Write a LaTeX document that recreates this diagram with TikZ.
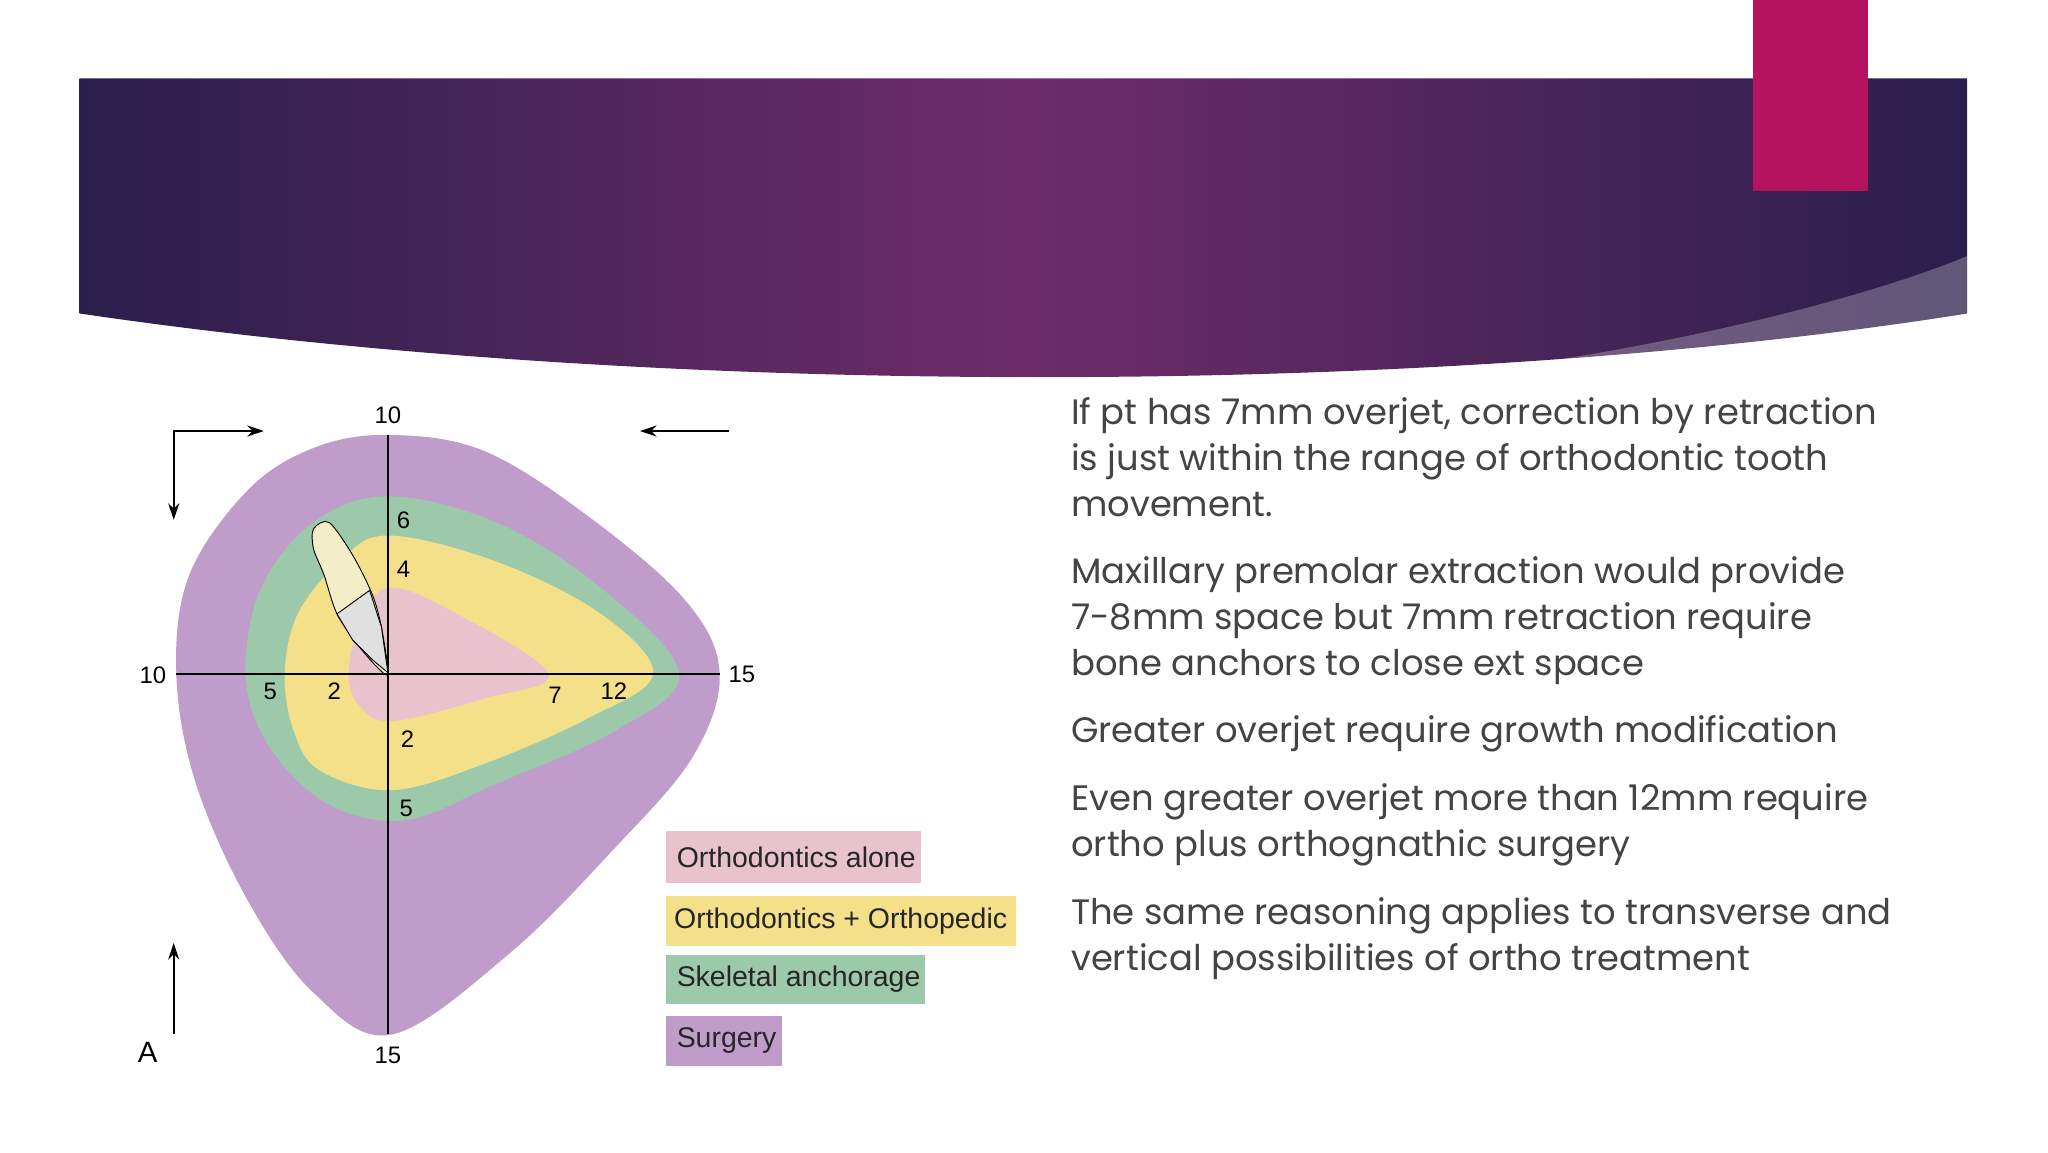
\documentclass[tikz,border=0pt]{standalone}
\usepackage{fontspec}
\setmainfont{Liberation Sans}
\newfontfamily\bodyfont{Poppins}
\usetikzlibrary{arrows.meta}
\definecolor{surg}{HTML}{C09CCB}
\definecolor{skel}{HTML}{9CC9A9}
\definecolor{orth}{HTML}{F5E08A}
\definecolor{alone}{HTML}{E8C3CD}
\definecolor{txt}{HTML}{444444}
\definecolor{mag}{HTML}{B5135F}
\definecolor{edge}{HTML}{2A1F4C}
\definecolor{mid}{HTML}{6E2C68}
\tikzset{
 ax/.style={line width=2.2pt,black},
 arr/.style={line width=2.2pt,-{Stealth[length=18pt,width=12pt]}},
 darr/.style={line width=2.2pt,{Stealth[length=18pt,width=12pt]}-{Stealth[length=18pt,width=12pt]}},
 num/.style={font=\fontsize{26}{26}\selectfont},
 leg/.style={inner sep=0pt,font=\fontsize{31}{31}\selectfont,text=black!85},
 body/.style={anchor=north west,align=left,text=txt,font=\bodyfont\fontsize{38.5}{50}\selectfont,inner sep=0pt}
}
\begin{document}
\begin{tikzpicture}[x=0.05cm,y=-0.05cm]
\useasboundingbox (0,0) rectangle (1568,882);
\fill[white] (0,0) rectangle (1568,882);
% banner
\path[left color=edge, right color=edge, middle color=mid]
 (61,60) -- (1506,60) -- (1506,240) .. controls (1100,305) and (500,305) .. (61,240) -- cycle;
\fill[white,opacity=0.25] (1100,288) .. controls (1300,265) and (1450,220) .. (1506,196) -- (1506,240) .. controls (1350,265) and (1200,280) .. (1100,288) -- cycle;
\fill[mag] (1342,0) rectangle (1430,146);
% blobs
\fill[surg] plot[smooth cycle,tension=0.6] coordinates {(297,333)(370,345)(450,395)(525,460)(551,516)(530,580)(470,650)(390,730)(300,792)(240,760)(190,690)(150,600)(135,516)(145,440)(190,375)(240,343)};
\fill[skel] plot[smooth cycle,tension=0.6] coordinates {(297,380)(380,400)(460,450)(520,516)(470,560)(380,600)(310,628)(250,615)(205,570)(188,516)(200,450)(240,400)};
\fill[orth] plot[smooth cycle,tension=0.6] coordinates {(297,410)(380,430)(460,470)(500,516)(450,550)(370,585)(300,605)(245,590)(225,560)(218,516)(228,470)(260,430)};
\fill[alone] plot[smooth cycle,tension=0.6] coordinates {(297,450)(350,470)(420,516)(370,535)(300,552)(275,540)(267,516)(275,480)};
% tooth
\filldraw[fill={rgb,255:red,243;green,238;blue,200},draw=black,line width=1pt] plot[smooth cycle,tension=0.5] coordinates {(240,405)(252,400)(270,425)(285,455)(292,480)(297,515)(290,512)(275,495)(258,470)(248,440)(240,420)};
\filldraw[fill=black!12,draw=black,line width=1pt] (258,470) -- (283,452) -- (292,480) -- (297,515) -- (285,505) -- (270,490) -- cycle;
% axes
\coordinate (vt) at (297,333); \coordinate (vb) at (297,792);
\coordinate (hl) at (135,516); \coordinate (hr) at (551,516);
\draw[ax] (vt) -- (vb);
\draw[ax] (hl) -- (hr);
\node[num] (t10) at (297,318) {10};
\node[num] (b15) at (297,808) {15};
\node[num] (l10) at (117,517) {10};
\node[num] (r15) at (568,516) {15};
\node[num] at (309,398) {6};
\node[num] at (309,436) {4};
\node[num] at (207,529) {5};
\node[num] at (256,529) {2};
\node[num] at (425,532) {7};
\node[num] at (470,529) {12};
\node[num] at (312,566) {2};
\node[num] at (311,619) {5};
% arrows
\coordinate (c1) at (133,330); \coordinate (c0) at (133,398); \coordinate (c2) at (202,330);
\draw[darr] (c0) -- (c1) -- (c2);
\coordinate (la) at (558,330); \coordinate (lb) at (490,330);
\draw[arr] (la) -- (lb);
\coordinate (ua) at (133,792); \coordinate (ub) at (133,722);
\draw[arr] (ua) -- (ub);
\node[font=\fontsize{32}{32}\selectfont] (A) at (113,806) {A};
% legend
\fill[alone] (510,636) rectangle (705,676);
\fill[orth] (510,686) rectangle (778,724);
\fill[skel] (510,731) rectangle (708,769);
\fill[surg] (510,778) rectangle (599,816);
\node[leg,anchor=west] (g1) at (518,656) {Orthodontics alone};
\node[leg,anchor=west] (g2) at (516,705) {Orthodontics + Orthopedic};
\node[leg,anchor=west] (g3) at (518,750) {Skeletal anchorage};
\node[leg,anchor=west] (g4) at (518,797) {Surgery};
% text
\node[body] (p1) at (820,304) {If pt has 7mm overjet, correction by retraction\\is just within the range of orthodontic tooth\\movement.};
\node[body] (p2) at (820,426) {Maxillary premolar extraction would provide\\7-8mm space but 7mm retraction require\\bone anchors to close ext space};
\node[body] (p3) at (820,548) {Greater overjet require growth modification};
\node[body] (p4) at (820,600) {Even greater overjet more than 12mm require\\ortho plus orthognathic surgery};
\node[body] (p5) at (820,687) {The same reasoning applies to transverse and\\vertical possibilities of ortho treatment};
\end{tikzpicture}
\end{document}
